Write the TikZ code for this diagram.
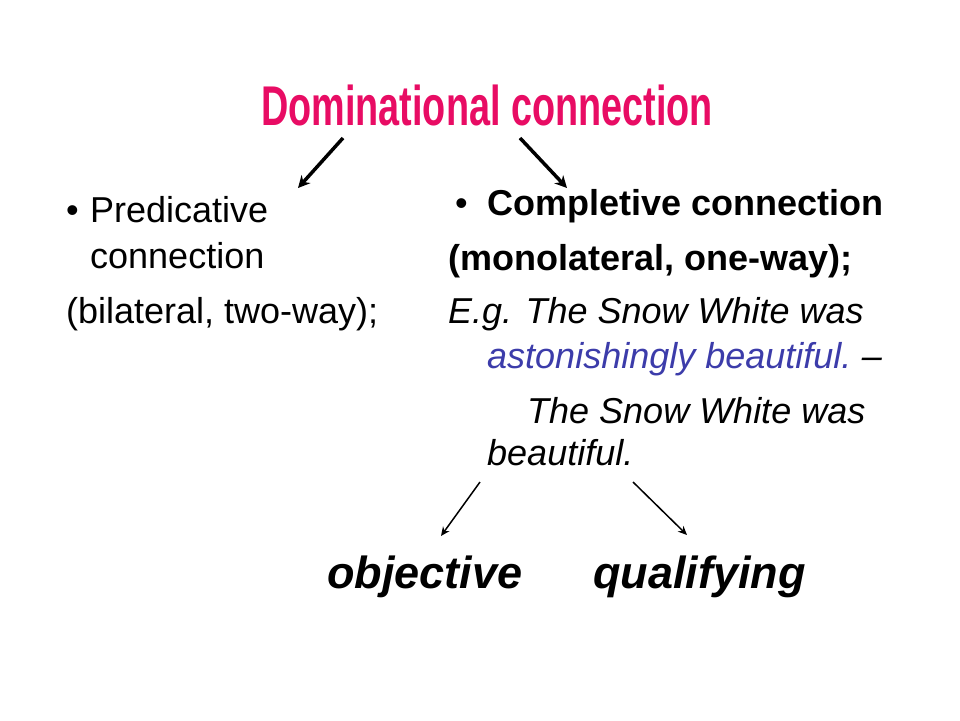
\documentclass[tikz,border=0pt]{standalone}
\usepackage{fontspec}
\setmainfont{Liberation Sans}
\usetikzlibrary{arrows.meta}
\definecolor{titlepink}{RGB}{232,12,100}
\definecolor{exblue}{RGB}{60,60,170}
\tikzset{
  txt/.style={anchor=base west,inner sep=0pt,font=\fontsize{36}{38}\selectfont},
  big/.style={anchor=base west,inner sep=0pt,font=\fontsize{45}{48}\selectfont\bfseries\itshape},
  thick arrow/.style={line width=3.5pt,-{Stealth[length=12pt,width=12pt]}},
  thin arrow/.style={line width=1.5pt,-{Stealth[length=9pt,width=8pt]}}
}
\begin{document}
\begin{tikzpicture}[x=1pt,y=-1pt]
  \useasboundingbox (0,0) rectangle (960,720);
  % title
  \node[inner sep=0pt,text=titlepink] (title) at (487,105)
    {\scalebox{0.675}[1]{\fontsize{56}{60}\selectfont\bfseries Dominational connection}};
  \path
  (343,138) coordinate (t1)
  (298,188) coordinate (t2)
  (520,138) coordinate (t3)
  (567,188) coordinate (t4);
  \draw[thick arrow] (t1) -- (t2);
  \draw[thick arrow] (t3) -- (t4);

  % left column
  \node[txt] (lb) at (66,222) {\textbullet};
  \node[txt] (pred1) at (90,222) {Predicative};
  \node[txt] (pred2) at (90,268) {connection};
  \node[txt] (bil) at (66,323) {(bilateral,\ two-way);};

  % right column
  \node[txt] (rb) at (455,215) {\textbullet};
  \node[txt] (comp) at (487,215) {\bfseries Completive connection};
  \node[txt] (mono) at (448,270) {\bfseries (monolateral, one-way);};
  \node[txt] (eg) at (448,323) {\itshape E.g. The Snow White was};
  \node[txt,text=exblue] (ast) at (487,368) {\itshape astonishingly beautiful.};
  \node[txt,anchor=base west] (dash) at (ast.base east) {\ \itshape --};
  \node[txt] (sw) at (527,423) {\itshape The Snow White was};
  \node[txt] (beau) at (487,465) {\itshape beautiful.};

  % lower branches
  \path
  (480,482) coordinate (b1)
  (441,536) coordinate (b2)
  (633,482) coordinate (b3)
  (687,535) coordinate (b4);
  \draw[thin arrow] (b1) -- (b2);
  \draw[thin arrow] (b3) -- (b4);
  \node[big] (obj) at (327,588) {objective};
  \node[big] (qual) at (593,588) {qualifying};
\end{tikzpicture}
\end{document}
